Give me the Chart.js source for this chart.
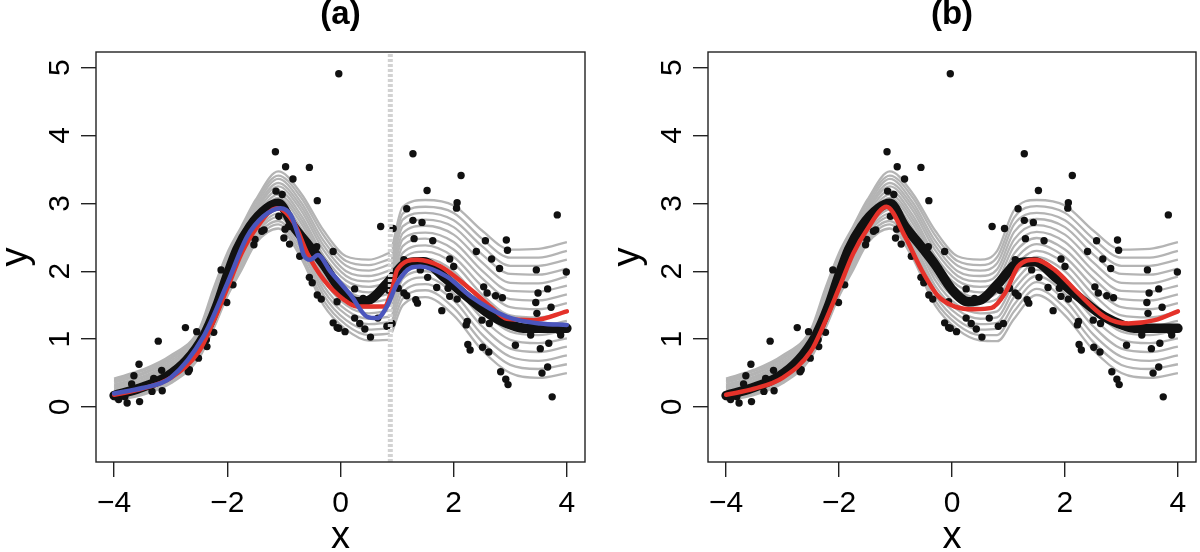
<!DOCTYPE html>
<html>
<head>
<meta charset="utf-8">
<script src="https://cdn.jsdelivr.net/npm/chart.js@4.4.1/dist/chart.umd.min.js"></script>
<style>
  html, body { margin: 0; padding: 0; background: #fff; }
  #wrap { position: relative; width: 1200px; height: 552px; }
  canvas { position: absolute; top: 0; }
</style>
</head>
<body>
<div id="wrap">
  <canvas id="pa" width="600" height="552" style="left:0"></canvas>
  <canvas id="pb" width="600" height="552" style="left:600px"></canvas>
</div>
<script>
const FONT = "'Liberation Sans', Arial, Helvetica, sans-serif";

// axes
const xTickVals = [-4, -2, 0, 2, 4];
const yTickVals = [0, 1, 2, 3, 4, 5];
const xRange = [-4.32, 4.32];
const yRange = [-0.81, 5.23];
const cutX = 0.88; // dotted split line in (a)

// observed points
const obsX = [-0.03, -1.15, -0.97, -0.55, 1.28, 2.13, 1.53, -0.84, -1.14, -1.03, -0.41, 2.06, 2.05, 3.83, 1.17,
  -1.09, -0.88, -1.35, -1.0, -1.53, -0.90, 0.71, 0.93, 1.28, 1.44, 1.30, 1.63, 2.56, 2.93, 2.40,
  2.95, 2.67, 2.81, 3.46, 3.99, -0.13, -2.11, -1.90, -0.55, 0.25, -0.41, -0.34, 1.93, 2.0, 1.54,
  1.90, 1.70, 1.93, 2.06, 2.53, 2.59, 2.74, 2.86, 3.49, 3.66, 3.45, 3.72, 1.12, 1.17, 1.33,
  1.36, 1.79, 2.24, 2.22, 2.50, 2.63, 3.09, 3.53, 3.68, 2.25, 2.29, 2.51, 2.62, 2.83, 2.92,
  2.96, 3.56, 3.66, 3.74, 3.89, 3.36, 0.25, 0.34, 0.43, 0.53, 0.08, -0.06, -0.13, 0.82, -2.74,
  -3.22, -2.54, -2.24, -2.01, -2.37, -2.51, -2.67, -3.56, -3.65, -3.69, -3.16, -3.30, -3.15, -3.55, -3.77,
  -3.92, -3.33, -0.98, -0.92, -1.51, -0.72, -0.42, -0.50, -0.03, -1.39, -2.36, -2.69, -3.81, 1.41, 1.12,
  -0.06, 0.91, 0.66, 1.02, 0.85, 3.47, 3.2, 3.6, 3.85, 4.0, -0.25, 0.4];
const obsY = [4.91, 3.76, 3.54, 3.53, 3.73, 3.41, 3.19, 3.36, 3.18, 3.13, 3.04, 3.01, 2.93, 2.83, 2.92,
  2.81, 2.68, 2.61, 2.49, 2.39, 2.40, 2.66, 2.63, 2.75, 2.72, 2.48, 2.45, 2.45, 2.46, 2.29,
  2.31, 2.18, 2.04, 2.02, 1.99, 2.29, 2.02, 1.80, 1.91, 1.74, 1.65, 1.59, 2.18, 2.07, 1.91,
  1.75, 1.76, 1.63, 1.59, 1.77, 1.68, 1.64, 1.61, 1.68, 1.74, 1.54, 1.47, 1.68, 1.64, 1.58,
  1.53, 1.42, 1.26, 1.21, 1.28, 1.23, 0.91, 0.86, 0.94, 0.92, 0.84, 0.88, 0.81, 0.52, 0.41,
  0.33, 0.50, 0.59, 0.15, 1.06, 1.06, 1.31, 1.23, 1.15, 1.03, 1.11, 1.17, 1.24, 1.19, 1.17,
  0.97, 1.11, 1.10, 1.54, 0.99, 0.72, 0.55, 0.63, 0.46, 0.34, 0.54, 0.42, 0.24, 0.08, 0.06,
  0.11, 0.23, 2.62, 2.66, 2.47, 2.22, 2.36, 1.83, 1.16, 2.59, 0.89, 0.52, 0.15, 2.02, 2.17,
  1.55, 1.23, 1.31, 1.75, 1.72, 1.38, 1.17, 1.15, 1.13, 1.16, 2.05, 1.6];

// thick black curve (both panels)
const blackX = [-4, -3.54, -3.07, -2.72, -2.42, -2.19, -2.01, -1.83, -1.6, -1.3, -1.1, -0.83, -0.54, -0.3, 0, 0.29, 0.52, 0.82, 1.17, 1.47, 1.82, 2.23, 2.7, 3.29, 4];
const blackY = [0.17, 0.28, 0.45, 0.69, 1.04, 1.48, 1.92, 2.32, 2.66, 2.93, 3.0, 2.66, 2.36, 2.10, 1.73, 1.55, 1.58, 1.82, 2.12, 2.14, 1.92, 1.63, 1.33, 1.16, 1.16];

// red curve, panel (a)
const redAX = [-4, -3.5, -3, -2.5, -2.25, -2, -1.75, -1.5, -1.12, -0.82, -0.59, -0.29, 0.06, 0.29, 0.77, 0.91, 1.0, 1.36, 1.77, 2.3, 2.65, 2.94, 3.42, 4];
const redAY = [0.18, 0.27, 0.43, 0.82, 1.25, 1.75, 2.26, 2.62, 2.93, 2.71, 2.27, 1.87, 1.58, 1.48, 1.48, 1.73, 2.02, 2.17, 2.07, 1.73, 1.48, 1.30, 1.28, 1.41];

// blue curve, panel (a)
const blueX = [-4, -3.5, -3, -2.42, -2, -1.65, -1.36, -1.06, -0.88, -0.74, -0.65, -0.53, -0.4, -0.18, 0.18, 0.47, 0.65, 0.82, 1.0, 1.24, 1.41, 1.88, 2.3, 2.94, 3.53, 4];
const blueY = [0.2, 0.28, 0.43, 1.04, 1.82, 2.51, 2.81, 2.93, 2.83, 2.51, 2.24, 2.17, 2.24, 2.0, 1.65, 1.33, 1.31, 1.48, 1.82, 2.05, 2.07, 1.92, 1.63, 1.33, 1.23, 1.21];

// red curve, panel (b)
const redBX = [-4, -3.5, -3, -2.5, -2.25, -2, -1.75, -1.5, -1.16, -0.83, -0.54, -0.24, 0.05, 0.41, 0.7, 0.94, 1.17, 1.47, 1.82, 2.23, 2.7, 3.12, 3.59, 4];
const redBY = [0.18, 0.27, 0.43, 0.82, 1.25, 1.75, 2.26, 2.62, 2.95, 2.51, 2.02, 1.63, 1.48, 1.44, 1.46, 1.68, 2.07, 2.17, 2.02, 1.68, 1.33, 1.23, 1.28, 1.41];

// gray curves: one column of 16 values (bottom to top) per x position
const grayX = [-4, -3.5, -3, -2.5, -2.25, -2, -1.75, -1.5, -1.1, -0.7, -0.3, 0.1, 0.5, 0.8, 1.1, 1.5, 2, 2.5, 3, 3.5, 4];
const grayCols = [
  [0.10, 0.12, 0.14, 0.16, 0.19, 0.21, 0.23, 0.25, 0.27, 0.29, 0.31, 0.33, 0.36, 0.38, 0.40, 0.42],
  [0.18, 0.20, 0.23, 0.25, 0.28, 0.30, 0.33, 0.35, 0.38, 0.40, 0.43, 0.45, 0.48, 0.50, 0.53, 0.55],
  [0.35, 0.38, 0.40, 0.43, 0.46, 0.49, 0.51, 0.54, 0.57, 0.60, 0.62, 0.65, 0.68, 0.71, 0.73, 0.76],
  [0.72, 0.75, 0.78, 0.80, 0.83, 0.86, 0.89, 0.92, 0.94, 0.97, 1.00, 1.03, 1.06, 1.08, 1.11, 1.14],
  [1.14, 1.18, 1.22, 1.26, 1.30, 1.34, 1.38, 1.42, 1.45, 1.49, 1.53, 1.57, 1.61, 1.65, 1.69, 1.73],
  [1.63, 1.67, 1.72, 1.76, 1.80, 1.84, 1.89, 1.93, 1.97, 2.01, 2.06, 2.10, 2.14, 2.18, 2.23, 2.27],
  [2.02, 2.06, 2.11, 2.15, 2.19, 2.23, 2.28, 2.32, 2.36, 2.40, 2.45, 2.49, 2.53, 2.57, 2.62, 2.66],
  [2.41, 2.45, 2.50, 2.54, 2.58, 2.62, 2.67, 2.71, 2.75, 2.79, 2.84, 2.88, 2.92, 2.96, 3.01, 3.05],
  [2.63, 2.69, 2.74, 2.80, 2.85, 2.91, 2.97, 3.02, 3.08, 3.13, 3.19, 3.25, 3.30, 3.36, 3.41, 3.47],
  [2.20, 2.26, 2.33, 2.39, 2.45, 2.52, 2.58, 2.64, 2.71, 2.77, 2.83, 2.90, 2.96, 3.02, 3.09, 3.15],
  [1.50, 1.57, 1.65, 1.72, 1.79, 1.87, 1.94, 2.01, 2.09, 2.16, 2.23, 2.31, 2.38, 2.45, 2.53, 2.60],
  [1.14, 1.21, 1.28, 1.36, 1.43, 1.50, 1.57, 1.64, 1.72, 1.79, 1.86, 1.93, 2.00, 2.08, 2.15, 2.22],
  [0.98, 1.06, 1.14, 1.22, 1.30, 1.38, 1.46, 1.54, 1.61, 1.69, 1.77, 1.85, 1.93, 2.01, 2.09, 2.17],
  [0.97, 1.06, 1.15, 1.24, 1.32, 1.41, 1.50, 1.59, 1.68, 1.77, 1.86, 1.95, 2.03, 2.12, 2.21, 2.30],
  [1.30, 1.41, 1.51, 1.62, 1.73, 1.83, 1.94, 2.05, 2.15, 2.26, 2.37, 2.47, 2.58, 2.69, 2.79, 2.90],
  [1.65, 1.74, 1.84, 1.93, 2.02, 2.12, 2.21, 2.30, 2.40, 2.49, 2.58, 2.68, 2.77, 2.86, 2.96, 3.05],
  [1.35, 1.46, 1.57, 1.67, 1.78, 1.89, 2.00, 2.11, 2.21, 2.32, 2.43, 2.54, 2.65, 2.75, 2.86, 2.97],
  [0.84, 0.96, 1.07, 1.19, 1.31, 1.43, 1.54, 1.66, 1.78, 1.90, 2.01, 2.13, 2.25, 2.37, 2.48, 2.60],
  [0.50, 0.62, 0.74, 0.86, 0.99, 1.11, 1.23, 1.35, 1.47, 1.59, 1.71, 1.83, 1.96, 2.08, 2.20, 2.32],
  [0.43, 0.56, 0.68, 0.81, 0.94, 1.06, 1.19, 1.32, 1.44, 1.57, 1.70, 1.82, 1.95, 2.08, 2.20, 2.33],
  [0.50, 0.63, 0.76, 0.89, 1.01, 1.14, 1.27, 1.40, 1.53, 1.66, 1.79, 1.92, 2.04, 2.17, 2.30, 2.43]
];
// panel (a): curves are cut at the dotted line, extra columns either side of it
const grayLeftEndX = 0.87;
const grayLeftEnd = [0.99, 1.08, 1.16, 1.25, 1.33, 1.42, 1.50, 1.59, 1.67, 1.76, 1.84, 1.93, 2.01, 2.10, 2.18, 2.27];
const grayRightStartX = [0.91, 1.1, 1.5];
const grayRightStart = [
  [1.10, 1.18, 1.27, 1.35, 1.43, 1.52, 1.60, 1.68, 1.77, 1.85, 1.93, 2.02, 2.10, 2.18, 2.27, 2.35],
  [1.50, 1.60, 1.69, 1.79, 1.89, 1.98, 2.08, 2.18, 2.27, 2.37, 2.47, 2.56, 2.66, 2.76, 2.85, 2.95],
  [1.62, 1.72, 1.81, 1.91, 2.00, 2.10, 2.19, 2.29, 2.38, 2.48, 2.57, 2.67, 2.76, 2.86, 2.95, 3.05]
];

function pts(xs, ys) {
  return xs.map((x, i) => ({ x: x, y: ys[i] }));
}

function grayLines(xs, cols) {
  const out = [];
  for (let k = 0; k < cols[0].length; k++) {
    out.push({
      data: xs.map((x, i) => ({ x: x, y: cols[i][k] })),
      borderColor: '#b4b4b4', borderWidth: 2.3, pointRadius: 0,
      cubicInterpolationMode: 'monotone', order: 5
    });
  }
  return out;
}

function curve(xs, ys, color, width, order) {
  return {
    data: pts(xs, ys), borderColor: color, borderWidth: width, pointRadius: 0,
    cubicInterpolationMode: 'monotone', borderCapStyle: 'round', order: order
  };
}

function dots() {
  return {
    data: pts(obsX, obsY), showLine: false, pointRadius: 3.7, pointBorderWidth: 0,
    pointBackgroundColor: '#111', pointBorderColor: '#111', order: 4
  };
}

// box round the plot region, like R's box()
const boxPlugin = {
  id: 'box',
  afterDatasetsDraw(chart) {
    const a = chart.chartArea, ctx = chart.ctx;
    ctx.save();
    ctx.strokeStyle = '#222';
    ctx.lineWidth = 1.4;
    ctx.strokeRect(a.left, a.top, a.right - a.left, a.bottom - a.top);
    ctx.restore();
  }
};

const minus = v => String(v).replace('-', '\u2212');

function makePanel(id, title, datasets, padLeft, padRight) {
  new Chart(document.getElementById(id), {
    type: 'line',
    data: { datasets: datasets },
    options: {
      responsive: false,
      animation: false,
      events: [],
      layout: { padding: { left: padLeft, right: padRight, top: 0, bottom: 0 } },
      plugins: {
        legend: { display: false },
        tooltip: { enabled: false },
        title: {
          display: true, text: title, fullSize: false, color: '#000',
          font: { family: FONT, size: 33, weight: 'bold', lineHeight: 1 },
          padding: { top: -1.5, bottom: 20.5 }
        }
      },
      scales: {
        x: {
          type: 'linear', min: xRange[0], max: xRange[1],
          afterBuildTicks: s => { s.ticks = xTickVals.map(v => ({ value: v })); },
          afterFit: s => { s.height = 90; },
          ticks: { autoSkip: false, padding: 9, color: '#000', font: { family: FONT, size: 30 }, callback: minus },
          grid: { drawOnChartArea: false, drawTicks: true, tickLength: 15, color: '#222', lineWidth: 1.4 },
          border: { display: false },
          title: { display: true, text: 'x', color: '#000', font: { family: FONT, size: 38, lineHeight: 1 }, padding: { top: 0, bottom: -5 } }
        },
        y: {
          type: 'linear', min: yRange[0], max: yRange[1],
          afterBuildTicks: s => { s.ticks = yTickVals.map(v => ({ value: v })); },
          afterFit: s => { s.width = 96; },
          ticks: { autoSkip: false, minRotation: 90, maxRotation: 90, crossAlign: 'center', padding: 12, color: '#000', font: { family: FONT, size: 30 }, callback: minus },
          grid: { drawOnChartArea: false, drawTicks: true, tickLength: 15, color: '#222', lineWidth: 1.4 },
          border: { display: false },
          title: { display: true, text: 'y', color: '#000', font: { family: FONT, size: 38, lineHeight: 1 }, padding: { top: -2, bottom: 0 } }
        }
      }
    },
    plugins: [boxPlugin]
  });
}

// panel (a)
const cutLeft = grayX.indexOf(0.5) + 1;
const cutRight = grayX.indexOf(2);
const leftX = grayX.slice(0, cutLeft).concat([grayLeftEndX]);
const leftCols = grayCols.slice(0, cutLeft).concat([grayLeftEnd]);
const rightX = grayRightStartX.concat(grayX.slice(cutRight));
const rightCols = grayRightStart.concat(grayCols.slice(cutRight));

const dsA = [
  curve(blueX, blueY, '#4b56bd', 4.5, 0),
  curve(redAX, redAY, '#e5322a', 4.5, 1),
  {
    data: [{ x: cutX, y: yRange[0] }, { x: cutX, y: yRange[1] }],
    borderColor: '#d2d2d2', borderWidth: 5, borderDash: [3, 2], pointRadius: 0, order: 2
  },
  curve(blackX, blackY, '#111', 9.5, 3),
  dots()
].concat(grayLines(leftX, leftCols), grayLines(rightX, rightCols));

makePanel('pa', '(a)', dsA, 0, 15);

// panel (b)
const dsB = [
  curve(redBX, redBY, '#e5322a', 4.5, 1),
  curve(blackX, blackY, '#111', 9.5, 3),
  dots()
].concat(grayLines(grayX, grayCols));

makePanel('pb', '(b)', dsB, 12, 1.5);
</script>
</body>
</html>
